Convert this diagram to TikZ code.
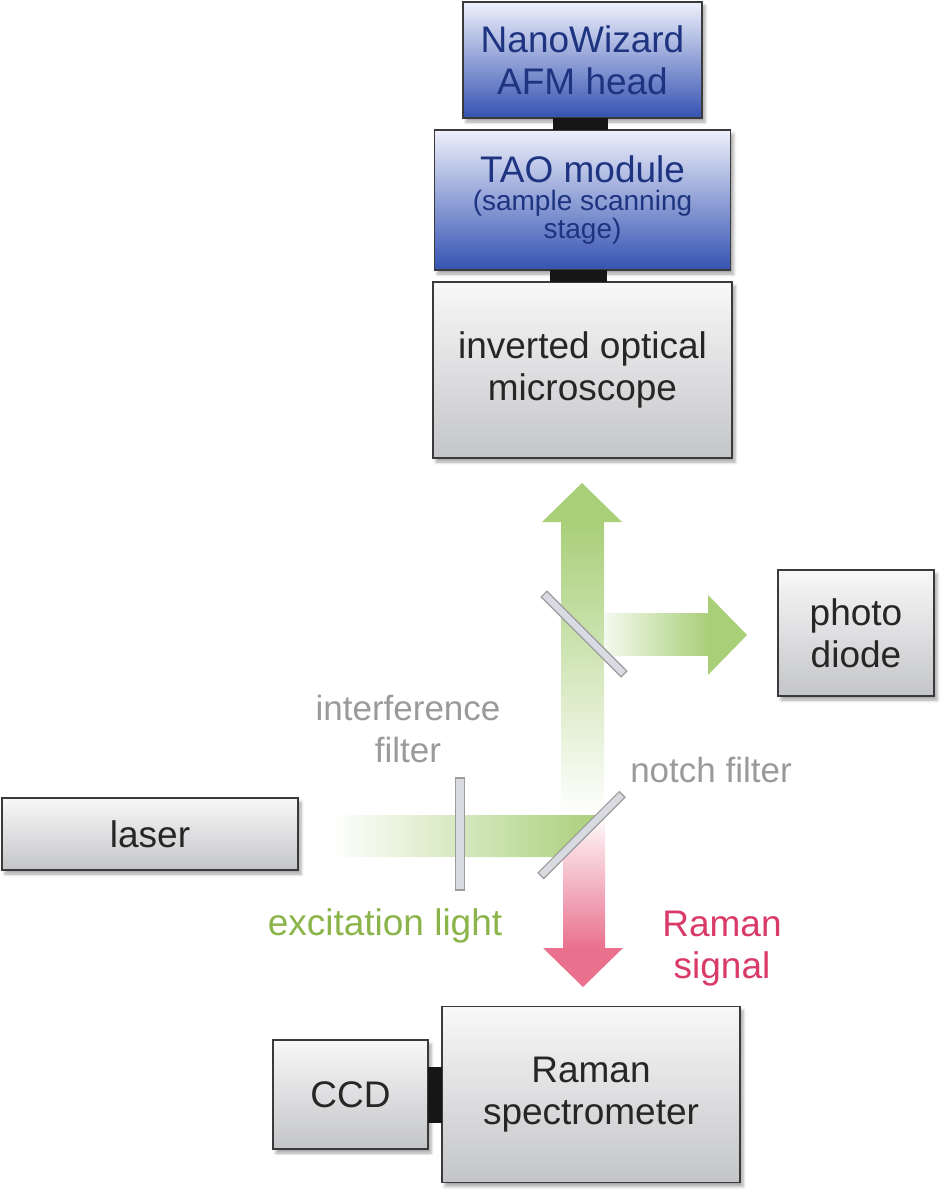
\documentclass[tikz,border=0pt]{standalone}
\usepackage{fontspec}
\setmainfont{Liberation Sans}
\usetikzlibrary{positioning,calc,shadows.blur}
\definecolor{BoxEdge}{HTML}{3A3A3A}
\definecolor{BoxTop}{HTML}{F8F8F8}
\definecolor{BoxBottom}{HTML}{C4C5C8}
\definecolor{BlueTop}{HTML}{EEF0FB}
\definecolor{BlueBottom}{HTML}{3452B2}
\definecolor{Navy}{HTML}{1F3480}
\definecolor{TextDark}{HTML}{262626}
\definecolor{Coupler}{HTML}{161616}
\definecolor{LabelGray}{HTML}{9A9A9A}
\definecolor{ExcGreen}{HTML}{8BB44A}
\definecolor{RamanRed}{HTML}{D93A68}
\definecolor{BeamGreen}{HTML}{A9CF79}
\definecolor{BeamPink}{HTML}{E9718E}
\definecolor{MirrorFill}{HTML}{DADBE2}
\definecolor{MirrorEdge}{HTML}{9C9C9C}

\begin{document}
\begin{tikzpicture}[x=1pt, y=-1pt, every node/.style={font=\fontsize{37}{42}\selectfont, text=TextDark},
  device/.style={draw=BoxEdge, line width=1.6pt, top color=BoxTop, bottom color=BoxBottom, align=center, inner sep=0pt, outer sep=0pt,
    blur shadow={shadow xshift=3pt, shadow yshift=-4pt, shadow opacity=35, shadow blur radius=3pt}},
  module/.style={device, top color=BlueTop, bottom color=BlueBottom, text=Navy},
  optic/.style={draw=MirrorEdge, fill=MirrorFill, line width=1.2pt, inner sep=0pt, minimum height=8pt},
  note/.style={text=LabelGray, align=center, font=\fontsize{35}{42}\selectfont}]
\useasboundingbox (0,0) rectangle (950,1204);
\node[module, minimum width=239pt, minimum height=116pt] (afm) at (582.5,60) {NanoWizard\\AFM head};
\node[module, below=12pt of afm, minimum width=296pt, minimum height=140pt, font=\fontsize{28}{28}\selectfont] (tao) {{\fontsize{37}{42}\selectfont TAO module}\\(sample scanning\\stage)};
\node[device, below=12pt of tao, minimum width=299pt, minimum height=176pt] (scope) {inverted optical\\microscope};
\node[device, minimum width=156pt, minimum height=126pt] (diode) at (856,633) {photo\\diode};
\node[device, minimum width=296pt, minimum height=72pt] (laser) at (150,834) {laser};
\node[device, minimum width=155pt, minimum height=109pt] (ccd) at (350.5,1094.5) {CCD};
\node[device, right=14pt of ccd, minimum width=298pt, minimum height=176pt] (spec) {Raman\\spectrometer};
\fill[Coupler] ($(afm.south)+(-30,0)$) rectangle ($(tao.north)+(25,0)$);
\fill[Coupler] ($(tao.south)+(-33,0)$) rectangle ($(scope.north)+(24,0)$);
\fill[Coupler] ($(ccd.east)+(0,-28)$) rectangle ($(spec.west)+(0,28)$);

\shade[top color=BeamGreen, bottom color=white] (561,522) rectangle (604,815);
\fill[BeamGreen] (542,522) -- (582,483) -- (622,522) -- cycle;
\shade[left color=BeamGreen!12, right color=BeamGreen] (604,613) rectangle (708,655);
\fill[BeamGreen] (708,595) -- (747,635) -- (708,675) -- cycle;
\shade[left color=white, right color=BeamGreen] (330,815) -- (602,815) -- (559,857) -- (330,857) -- cycle;
\shade[top color=white, bottom color=BeamPink] (563,853) -- (605,812) -- (605,948) -- (563,948) -- cycle;
\fill[BeamPink] (543,948) -- (623,948) -- (583,987) -- cycle;

\node[optic, minimum width=113pt, rotate=-45] (splitter) at (584,634) {};
\node[optic, minimum width=115pt, rotate=45] (notch) at (581.5,835) {};
\node[optic, minimum width=9pt, minimum height=112pt] (ifilter) at (460,834) {};

\node[note, anchor=base] (iflabel) at (408,762) {interference\\filter};
\node[note, anchor=base] (notchlabel) at (711,782) {notch filter};
\node[note, anchor=base, text=ExcGreen, font=\fontsize{37}{42}\selectfont] (exclabel) at (385,935) {excitation light};
\node[note, anchor=base, text=RamanRed, font=\fontsize{37}{42}\selectfont] (ramanlabel) at (722,978) {Raman\\signal};
\end{tikzpicture}
\end{document}
